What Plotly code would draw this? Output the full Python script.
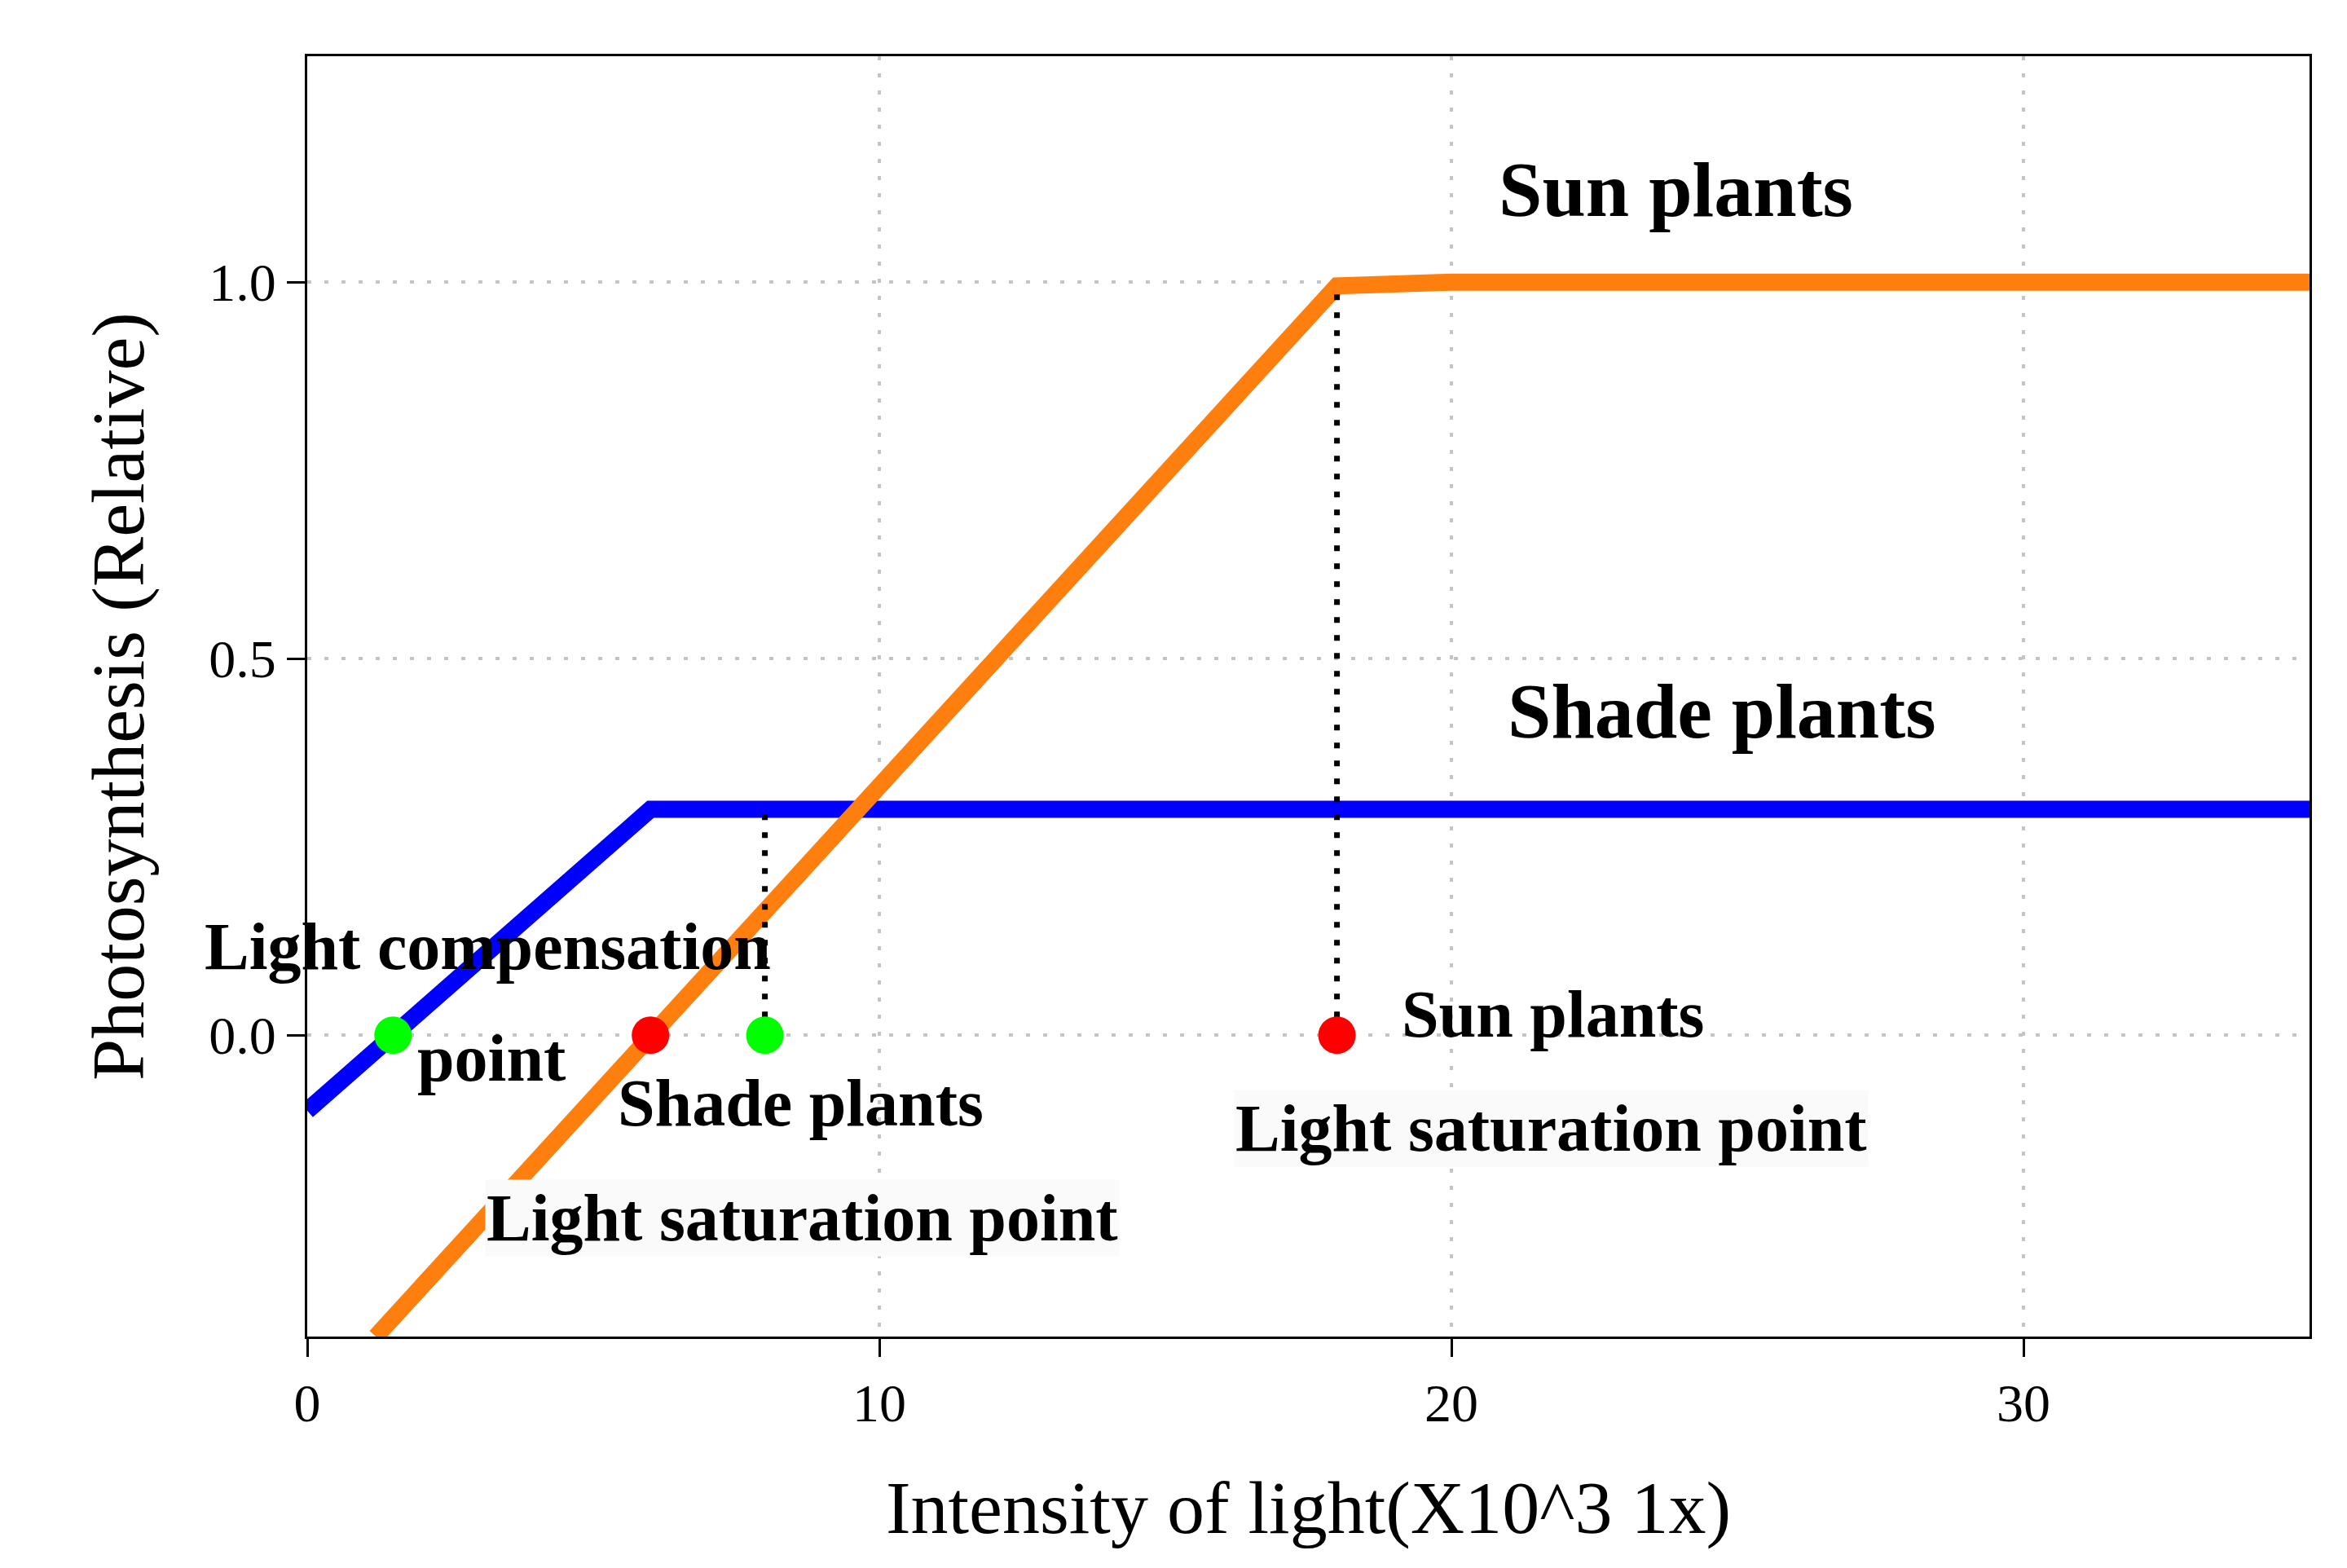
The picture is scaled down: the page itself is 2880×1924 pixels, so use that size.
import plotly.graph_objects as go

# Light-response curves (x: light intensity x10^3 lx, y: relative photosynthesis)
shade_x = [0, 6, 35]
shade_y = [-0.1, 0.3, 0.3]
sun_x = [1.2, 18, 20, 35]
sun_y = [-0.4, 0.995, 1.0, 1.0]

# Compensation / saturation points on the x axis
pt_x = [1.5, 6, 8, 18]
pt_y = [0, 0, 0, 0]
pt_colors = ["#00ff00", "#ff0000", "#00ff00", "#ff0000"]

# Dotted drop lines from the saturation points
drop_x = [[8, 8], [18, 18]]
drop_y = [[0, 0.3], [0, 1.0]]

X_MAX = 35

# Text labels: (text, x, y, size, boxed)
labels = [
    ("Sun plants", 20.8, 1.123, 96, False),
    ("Shade plants", 20.95, 0.43, 96, False),
    ("Light compensation", -1.82, 0.118, 82, False),
    ("point", 1.9, -0.03, 82, False),
    ("Shade plants", 5.4, -0.09, 82, False),
    ("Light saturation point", 3.1, -0.243, 82, True),
    ("Sun plants", 19.1, 0.028, 82, False),
    ("Light saturation point", 16.2, -0.124, 82, True),
]

FONT = "Liberation Serif, Times New Roman, serif"

fig = go.Figure()
fig.add_trace(go.Scatter(x=shade_x, y=shade_y, mode="lines",
                         line=dict(color="#0000ff", width=21), hoverinfo="skip"))
fig.add_trace(go.Scatter(x=sun_x, y=sun_y, mode="lines",
                         line=dict(color="#ff7f0e", width=21), hoverinfo="skip"))
for dx, dy in zip(drop_x, drop_y):
    fig.add_trace(go.Scatter(x=dx, y=dy, mode="lines",
                             line=dict(color="black", width=7, dash="7px,15px"),
                             hoverinfo="skip"))
fig.add_trace(go.Scatter(x=pt_x, y=pt_y, mode="markers",
                         marker=dict(color=pt_colors, size=46), hoverinfo="skip"))

for text, x, y, size, boxed in labels:
    # labels left of the axis would be hidden in data coords, so place them in paper x
    fig.add_annotation(x=x / X_MAX, y=y, xref="paper", yref="y", text=f"<b>{text}</b>",
                       showarrow=False, xanchor="left", yanchor="middle",
                       font=dict(family=FONT, size=size, color="black"),
                       bgcolor="#fafafa" if boxed else None)

axis_common = dict(showline=True, linecolor="black", linewidth=3, mirror=True,
                   ticks="outside", ticklen=22, tickwidth=3, tickcolor="black",
                   showgrid=True, gridcolor="#c4c4c4", gridwidth=4, griddash="5px,16px",
                   zeroline=False, tickfont=dict(family=FONT, size=66, color="black"))

fig.update_xaxes(range=[0, X_MAX], tickvals=[0, 10, 20, 30], ticktext=["0", "10", "20", "30"],
                 title=dict(text="Intensity of light(X10^3 1x)", standoff=60,
                            font=dict(family=FONT, size=92, color="black")),
                 **axis_common)
fig.update_yaxes(range=[-0.4, 1.3], tickvals=[0, 0.5, 1.0], ticktext=["0.0", "0.5", "1.0"],
                 title=dict(text="Photosynthesis (Relative)", standoff=50,
                            font=dict(family=FONT, size=92, color="black")),
                 **axis_common)

fig.update_layout(width=2880, height=1924, showlegend=False,
                  plot_bgcolor="white", paper_bgcolor="white",
                  margin=dict(l=369, r=54, t=61, b=292))

fig.write_html("out.html")
